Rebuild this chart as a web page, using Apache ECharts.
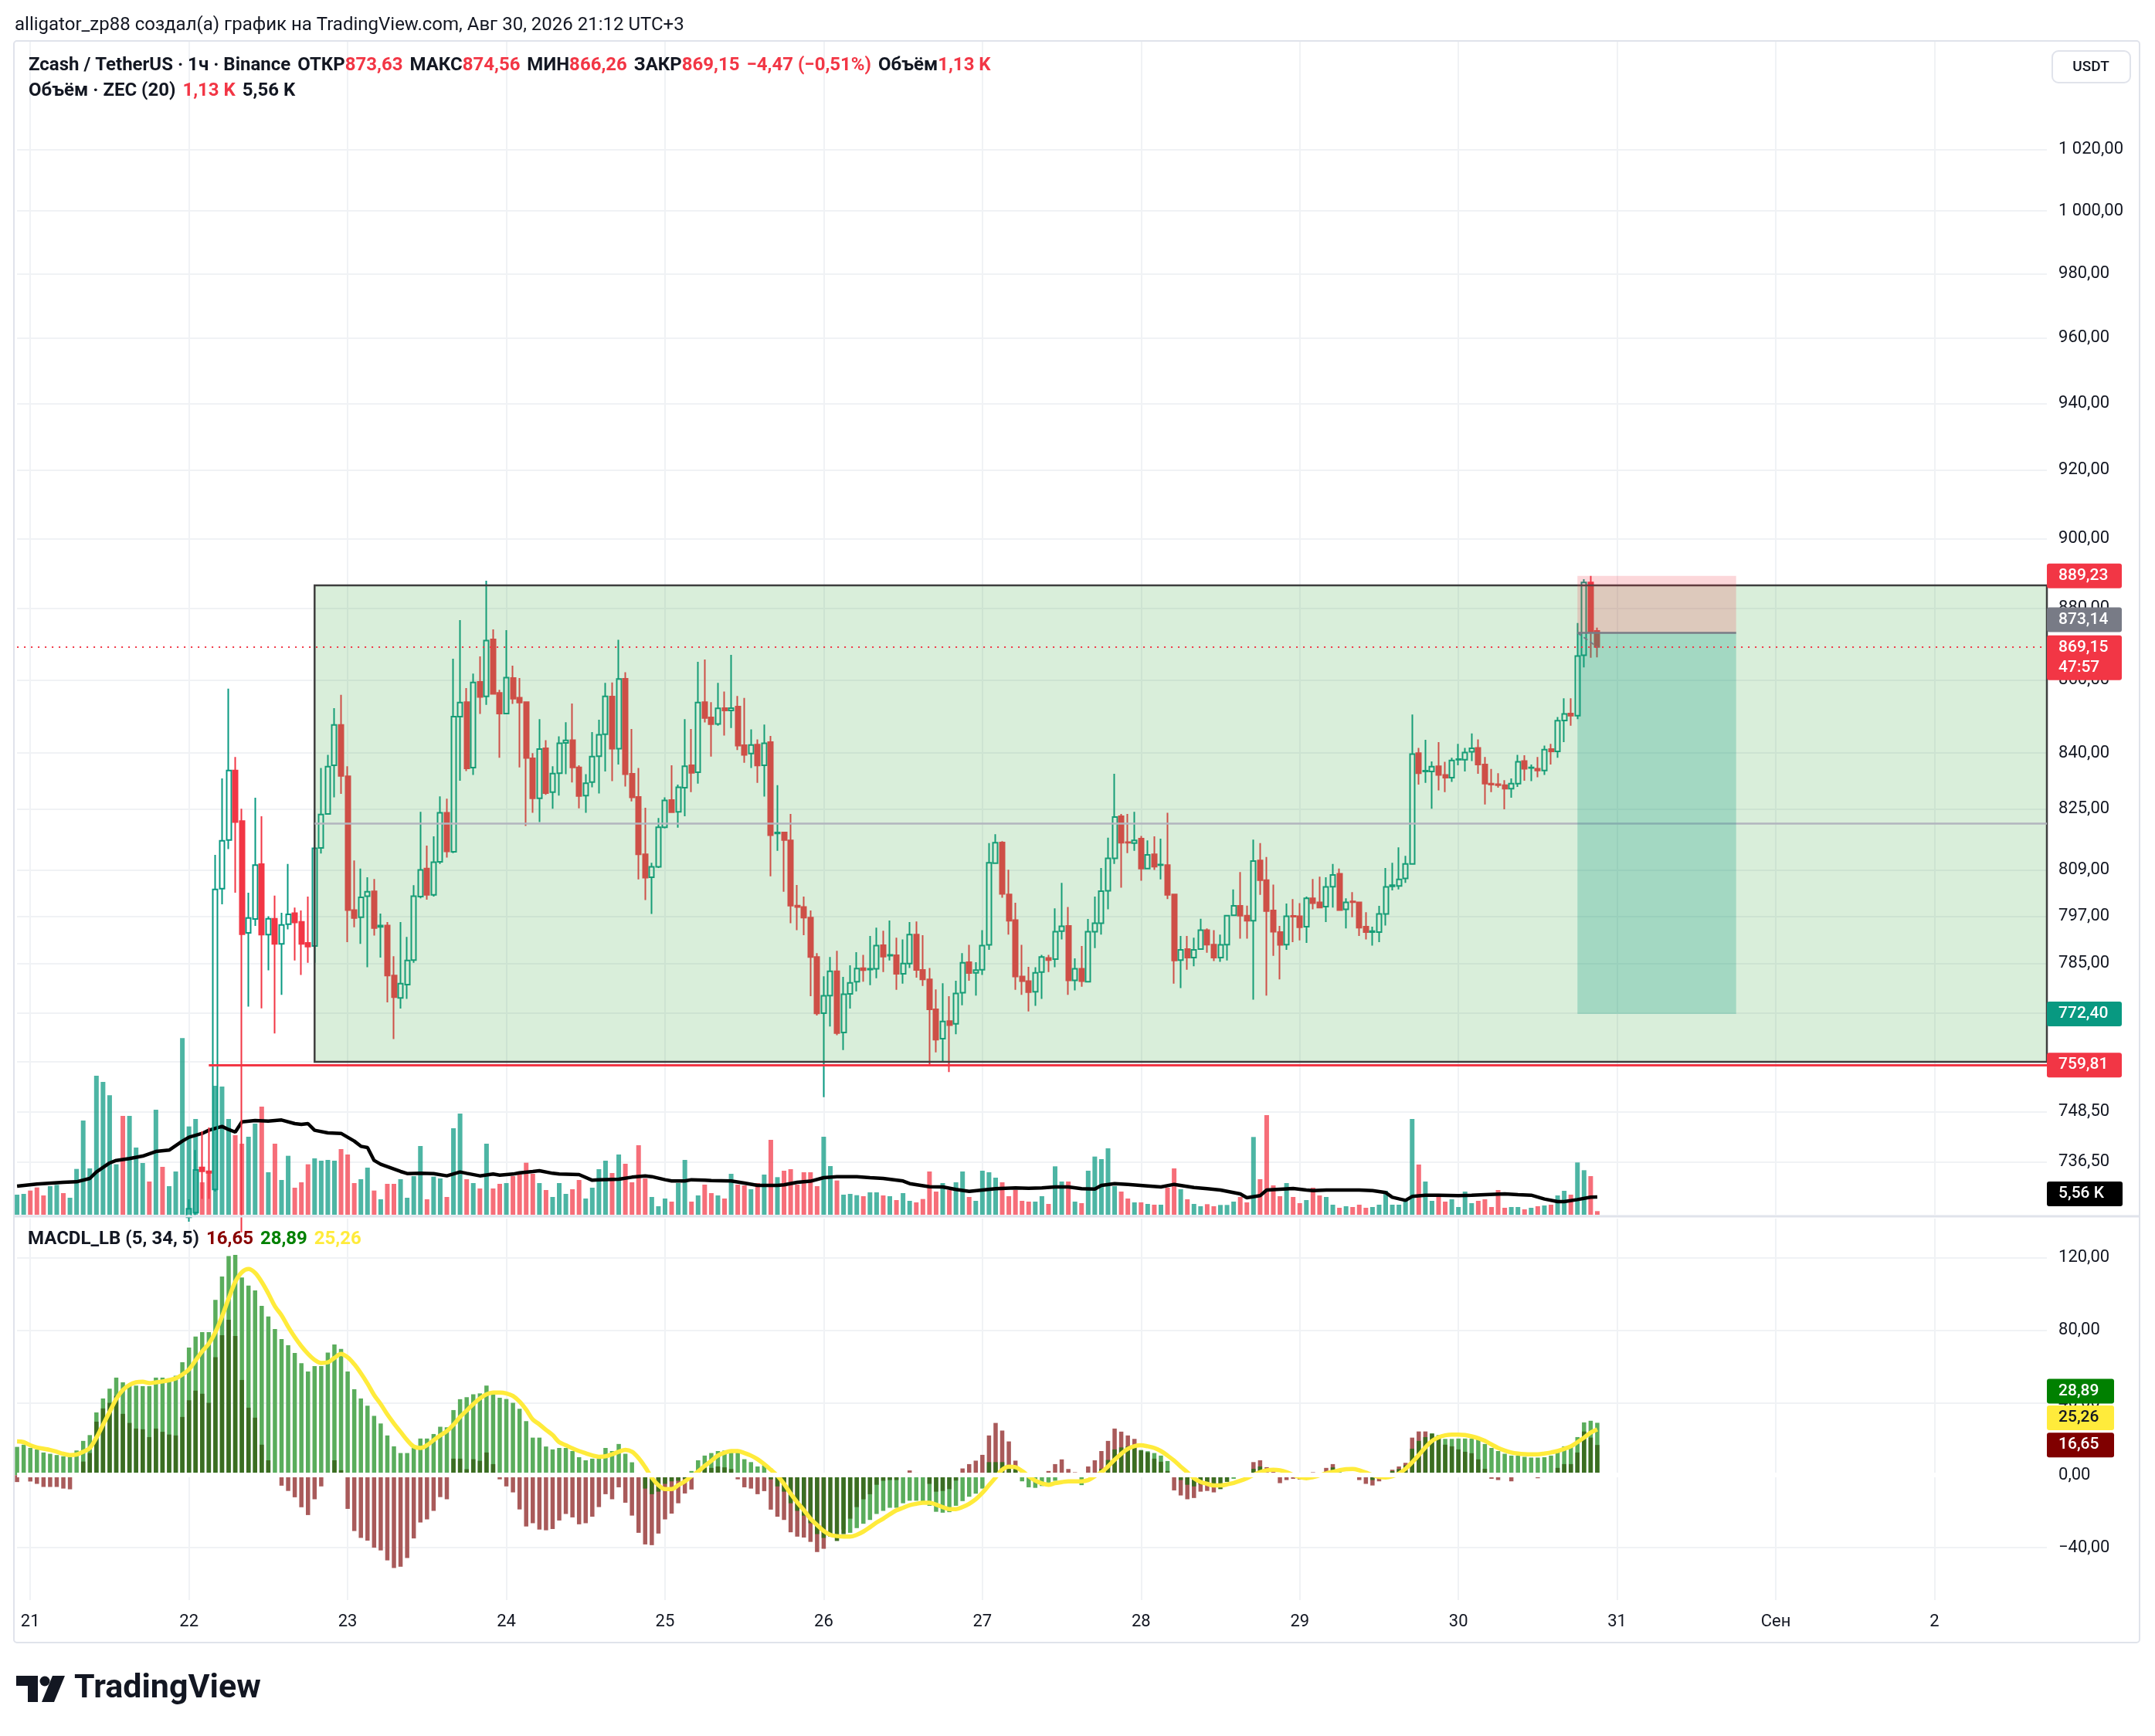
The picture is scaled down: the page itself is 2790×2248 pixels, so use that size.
<!DOCTYPE html>
<html><head><meta charset="utf-8">
<script src="https://cdn.jsdelivr.net/npm/echarts@6/dist/echarts.min.js"></script>
<style>html,body{margin:0;padding:0;background:#fff}#c{width:2790px;height:2248px}</style>
</head><body><div id="c"></div><script>
// ---------------- DATA ----------------
// hourly candles, index 0 = 20 Aug 22:00; candles 0..25 lie below the visible price range
const openP = [null,null,null,null,null,null,null,null,null,null,null,null,null,null,null,null,null,null,null,null,null,null,null,null,null,null,
723.5,724.6,735.2,734.3,
730.0,804.15,816.83,835.33,821.82,792.82,796.34,810.51,792.38,796.42,
790.01,795.02,797.84,795.63,790.27,789.48,814.74,823.73,836.72,847.64,
833.75,798.64,796.78,802.20,803.44,794.31,794.67,782.00,776.38,779.73,
785.90,802.11,809.35,802.55,811.14,824.00,813.75,849.90,853.87,836.07,
859.47,855.48,871.26,856.43,850.74,860.52,855.10,853.87,838.58,827.86,
841.27,829.51,834.58,842.76,843.51,836.16,828.60,832.18,839.14,845.11,
855.39,841.18,860.33,834.40,828.23,813.12,807.10,809.80,820.19,827.40,
824.28,830.71,836.72,834.86,853.87,849.71,847.92,852.25,851.59,852.63,
842.11,839.88,842.30,836.72,842.95,818.55,818.83,816.74,799.80,799.45,
796.69,786.69,772.60,776.98,783.08,767.83,777.41,780.43,783.86,783.51,
783.69,789.66,787.03,787.12,782.43,785.03,792.38,783.42,781.04,773.55,
766.30,770.63,769.95,777.67,785.38,782.69,783.47,789.74,810.78,816.20,
802.64,796.07,781.74,780.60,777.93,782.86,786.42,786.16,793.26,794.58,
780.78,783.69,780.43,793.08,795.28,803.62,812.04,823.09,816.29,816.01,
817.19,809.35,813.12,810.25,810.25,802.64,785.90,788.69,786.51,788.69,
793.52,789.83,786.51,789.83,797.31,799.71,797.22,795.90,811.50,806.38,
798.55,793.00,789.83,797.13,797.04,794.40,801.66,800.60,799.53,804.68,
808.00,798.82,800.86,800.60,794.40,793.00,793.00,797.66,804.77,804.86,
806.83,810.60,839.97,835.05,835.05,836.44,834.12,833.38,838.21,838.21,
840.34,841.37,836.91,831.81,831.62,831.35,830.43,831.81,837.83,835.98,
835.79,835.33,841.09,840.44,848.86,850.74,850.18,866.84,887.36,873.63];
const closeP = [null,null,null,null,null,null,null,null,null,null,null,null,null,null,null,null,null,null,null,null,null,null,null,null,null,null,
725.5,734.6,734.3,733.9,
803.97,816.65,835.33,821.55,792.47,796.60,810.25,792.38,796.42,790.01,
794.84,797.57,795.46,790.01,789.30,814.65,823.55,836.35,847.64,833.84,
798.64,796.60,801.93,803.35,794.05,794.67,782.00,776.56,779.99,785.82,
802.20,809.00,802.55,811.05,824.00,813.84,849.90,853.77,835.88,859.28,
855.29,870.97,856.15,850.74,860.61,854.82,853.77,838.67,827.86,841.09,
829.24,834.49,842.67,843.42,836.16,828.50,831.90,839.04,844.93,855.48,
841.18,860.23,834.30,828.13,813.12,807.01,809.80,820.19,827.31,824.18,
830.80,836.44,834.67,853.77,849.52,847.83,852.16,851.59,852.25,842.02,
839.51,842.20,836.63,842.67,818.10,818.83,816.83,799.80,799.45,796.69,
786.69,772.52,776.90,783.08,767.66,777.33,780.17,783.77,783.38,783.69,
789.57,786.77,787.20,782.43,785.03,792.38,783.42,781.04,773.55,766.04,
770.55,769.61,777.50,785.21,782.61,783.38,789.57,810.87,816.11,802.82,
795.90,781.74,780.60,777.84,782.69,786.69,785.90,793.08,794.49,780.78,
783.69,780.60,793.08,795.28,803.53,812.04,822.91,816.11,816.11,816.74,
809.35,812.94,809.89,810.42,802.55,785.82,788.51,786.51,788.51,793.52,
789.83,786.51,789.74,797.22,799.71,797.22,795.90,811.32,806.38,798.37,
793.08,789.74,797.04,796.95,794.23,801.66,800.42,799.26,804.60,807.73,
798.64,800.60,800.69,794.14,793.00,793.26,797.66,804.60,805.04,806.56,
810.60,839.70,834.58,835.23,836.35,834.12,833.38,838.02,838.39,840.16,
841.27,836.91,831.81,831.53,831.35,830.43,831.81,837.65,835.79,836.16,
835.33,840.90,840.44,848.77,850.65,850.18,866.65,887.36,873.40,869.15];
const lowP = [null,null,null,null,null,null,null,null,null,null,null,null,null,null,null,null,null,null,null,null,null,null,null,null,null,null,
722.5,724.0,727.8,727.8,
729.5,800.15,814.47,803.09,720.0,774.23,794.58,773.80,783.30,767.57,
777.15,793.70,785.82,782.17,785.21,785.21,813.30,823.73,828.13,829.05,
790.45,794.23,790.01,784.08,792.12,786.51,775.27,766.21,773.72,776.13,
785.21,801.66,801.31,802.11,810.60,812.22,813.39,832.55,835.14,834.12,
850.65,853.11,856.05,838.76,850.65,853.39,836.16,820.55,824.00,821.55,
828.78,825.10,828.60,834.30,832.09,825.19,824.00,830.80,829.15,835.05,
832.46,836.91,830.99,827.03,806.56,801.22,797.66,809.53,819.91,824.18,
820.10,823.09,829.51,831.81,848.30,839.04,847.45,844.74,846.80,840.81,
837.37,835.98,831.99,828.32,807.37,814.02,803.35,795.28,793.52,792.21,
776.81,772.00,752.00,769.27,767.15,763.49,773.72,778.01,780.43,779.56,
781.30,782.86,785.82,778.44,779.99,783.90,781.48,779.39,759.95,762.90,
760.62,758.10,767.40,774.58,780.69,776.98,782.17,788.51,810.60,801.84,
792.38,778.44,777.15,773.03,774.41,776.13,782.86,784.08,791.15,777.15,
778.27,779.21,780.43,788.95,792.38,798.82,810.60,804.42,813.39,814.02,
806.20,809.35,809.00,806.56,801.48,779.99,778.87,783.47,784.34,788.69,
787.73,785.64,785.47,785.82,797.31,791.32,791.32,775.95,802.55,776.98,
786.95,781.04,788.51,790.45,790.89,790.27,798.82,799.26,795.55,799.26,
798.64,793.96,796.78,792.03,791.15,789.57,790.45,794.67,803.71,803.97,
805.66,810.42,831.53,831.99,825.10,829.97,829.51,832.27,836.72,835.05,
837.83,834.40,826.21,829.51,830.71,824.92,828.04,830.89,832.55,832.46,
833.47,834.12,836.91,838.76,842.95,847.45,849.24,863.46,866.17,866.26];
const highP = [null,null,null,null,null,null,null,null,null,null,null,null,null,null,null,null,null,null,null,null,null,null,null,null,null,null,
727.7,739.3,743.8,744.7,
812.94,833.19,857.57,838.95,825.10,803.09,828.04,823.09,797.04,802.37,
797.93,810.60,799.26,798.55,802.11,814.92,835.98,839.51,852.25,855.86,
836.44,811.50,809.35,807.10,806.65,797.75,795.55,786.86,795.55,791.76,
805.04,824.28,815.37,817.83,828.41,827.77,865.88,876.70,857.76,861.75,
866.55,887.85,874.08,857.28,873.89,863.96,860.52,853.96,839.97,849.24,
843.51,836.44,844.55,848.39,853.49,836.72,834.30,845.67,849.05,859.18,
859.28,871.16,862.13,846.52,835.98,825.38,810.87,822.64,828.13,836.72,
831.53,849.24,846.52,865.02,865.69,853.87,859.18,856.81,866.93,855.58,
855.01,846.42,843.70,847.73,844.65,831.35,818.83,823.73,805.13,802.11,
798.55,787.64,781.83,786.69,788.25,781.65,784.60,787.90,787.20,792.03,
794.14,793.35,795.98,791.58,791.15,795.55,795.72,792.21,783.90,778.53,
780.08,776.81,780.69,787.64,789.74,785.38,793.52,816.01,818.37,816.56,
809.08,800.51,789.74,784.17,784.08,787.20,787.20,799.08,805.66,799.44,
786.34,789.48,796.34,802.11,809.53,817.46,834.40,823.73,823.73,824.28,
817.92,816.74,817.83,817.19,824.00,802.64,792.03,792.03,791.58,796.42,
793.96,793.52,792.38,797.31,803.97,808.45,799.80,816.92,816.01,812.40,
805.22,794.58,800.33,801.48,800.42,802.11,806.65,807.28,807.10,810.60,
809.35,801.66,803.26,800.60,798.11,794.40,799.71,809.53,810.87,814.92,
812.67,850.46,841.37,843.61,837.74,842.95,837.65,838.76,842.48,841.37,
845.30,843.70,838.95,835.70,834.58,832.73,833.19,839.51,839.42,836.91,
838.95,842.02,842.48,849.81,854.92,854.92,875.86,888.34,889.23,874.56];

// volume (thousands of ZEC)
const volumeK = [
6.29,6.53,7.57,8.54,6.04,8.94,9.35,6.77,5.32,14.34,
29.49,14.50,43.51,41.58,37.39,15.79,30.94,30.94,21.03,16.20,
10.39,32.88,14.99,8.94,13.54,55.28,27.64,29.98,10.15,13.38,
40.37,40.13,29.98,24.90,22.24,24.42,28.53,33.84,13.30,22.24,
10.88,18.45,8.46,10.15,15.79,17.65,16.92,17.16,16.92,20.55,
18.86,9.91,11.12,14.75,7.57,4.83,9.67,9.67,11.12,5.32,
12.09,21.51,4.83,11.93,11.36,5.56,27.07,31.67,11.12,9.91,
8.22,22.24,8.22,9.67,9.91,12.09,12.81,16.28,12.81,9.91,
7.74,5.56,9.91,6.53,7.98,10.88,5.08,8.46,14.26,16.92,
13.05,18.86,15.95,10.15,21.76,11.36,5.56,2.66,5.08,4.11,
9.91,17.16,4.11,6.04,9.43,6.77,6.04,5.08,12.81,9.43,
9.19,7.98,9.91,12.57,23.45,11.76,13.78,14.26,9.43,13.30,
13.30,8.94,24.42,15.23,10.72,6.29,6.53,6.12,5.80,7.01,
7.01,6.04,5.80,4.59,6.77,4.35,3.87,4.92,13.54,7.25,
9.91,7.74,10.15,13.54,5.56,4.35,13.78,13.30,11.60,10.15,
5.80,7.74,4.35,4.11,4.11,5.80,3.38,15.15,10.39,10.39,
4.11,3.63,13.78,18.21,17.41,20.79,8.94,7.25,5.08,3.87,
3.87,3.38,3.14,3.14,8.46,14.50,7.98,4.83,3.38,2.66,
3.30,2.66,3.06,3.06,4.11,5.56,3.87,24.34,11.12,31.18,
9.19,5.80,9.91,5.56,3.63,4.59,8.46,6.04,5.56,3.14,
2.18,2.66,2.42,3.14,2.18,2.42,3.14,7.49,3.14,3.14,
4.35,29.98,15.71,10.39,4.35,5.56,4.11,4.83,2.42,7.25,
3.63,4.35,4.83,2.42,7.74,2.18,2.42,2.42,1.69,2.18,
2.66,2.90,3.14,6.04,7.49,6.29,16.36,13.94,12.09,1.13];
// direction of the volume bars whose candles are off-range (index 0..25): 1 = up
const earlyVolUp = [1,1,0,0,0,1,1,0,1,1,1,1,1,1,1,1,0,1,1,1,0,1,0,1,1,1];
// volume MA(20), read at these bar indices
const volMaIdx = [0,3,7,9,11,12,14,15,17,19,21,23,25,26,28,29,31,32,33,34,36,38,40,42,43,44,45,47,49,51,52,53,54,55,58,59,61,63,65,67,68,70,72,73,75,76,78,79,81,82,85,87,88,91,93,95,96,98,99,101,102,104,105,108,110,112,115,116,118,120,122,124,127,129,131,134,135,138,140,142,144,146,148,151,153,155,157,159,161,163,164,166,168,171,173,175,178,180,182,185,186,188,189,191,193,195,196,198,201,203,205,207,208,210,211,213,215,218,220,222,225,227,229,231,233,234,236,238,239];
const volMaVal = [8.94,9.59,10.15,10.31,11.36,13.38,16.20,17.00,17.57,18.37,19.82,20.23,23.05,24.25,25.46,26.43,27.64,26.67,25.87,29.09,29.49,29.33,29.65,28.53,28.28,28.53,26.43,25.62,25.46,23.05,21.43,21.03,17.00,15.79,13.54,12.89,12.97,12.89,12.17,13.38,12.97,12.17,12.73,12.41,12.73,13.13,13.54,13.78,12.97,12.73,12.57,10.80,10.96,11.12,11.76,12.17,11.93,10.96,10.56,10.56,10.96,10.80,10.72,10.56,9.91,9.19,9.19,9.35,10.15,10.50,11.60,11.93,11.93,11.60,11.36,10.56,9.75,8.78,8.70,7.90,7.33,7.74,8.14,8.38,8.30,8.38,8.70,8.70,8.14,8.06,9.19,9.75,9.51,9.03,8.70,9.51,8.54,8.14,7.74,6.53,5.32,5.96,7.74,7.98,8.22,7.74,7.57,7.74,7.74,7.74,7.57,6.93,5.48,4.51,5.72,6.12,6.12,5.96,6.12,6.29,6.53,6.29,6.12,4.92,4.11,4.11,4.75,5.48,5.56];

// MACDL_LB (5, 34, 5): light-green columns, dark-green columns, red columns, yellow line
const macdGreen = [
15.6,16.8,15.0,14.2,12.5,11.8,11.1,10.4,10.1,13.6,
18.9,22.1,34.6,42.3,47.7,53.8,51.2,49.1,49.4,49.1,
49.1,53.8,53.8,53.4,54.8,62.3,70.4,76.4,78.9,78.9,
96.7,109.6,120.8,121.5,109.0,104.5,101.9,93.4,87.5,80.6,
75.1,71.7,67.4,61.8,57.2,60.2,60.2,67.6,72.1,69.6,
57.2,47.4,42.3,38.3,32.7,28.5,21.9,15.9,12.2,12.2,
15.3,20.2,20.2,22.7,26.7,26.4,35.9,41.9,43.0,44.6,
45.1,49.4,44.9,42.7,42.0,39.9,36.6,29.8,20.7,20.7,
15.8,14.2,15.0,15.0,13.3,9.9,8.2,9.1,9.1,15.0,
13.3,17.2,11.8,7.1,0,0,0,0,0,0,
0,0,2.3,8.2,10.8,12.2,13.3,13.6,12.9,12.9,
8.8,7.2,4.8,5.4,0,0,0,0,0,0,
0,0,0,0,0,-30.0,-31.8,-29.2,-26.8,-24.7,
-21.4,-19.7,-18.0,-18.0,-15.5,-14.1,-14.1,-14.8,-16.9,-20.2,
-20.7,-20.4,-16.9,-14.3,-11.9,-10.2,-7.4,0,0,0,
0,0,-3.4,-6.7,-7.0,-6.0,-4.1,-3.1,0,0,
0,-5.5,0,0,0,0,0,0,0,0,
13.9,13.2,12.2,10.8,7.8,0,0,0,0,0,
0,0,0,0,-2.0,0,0,0,0,0,
0,0,0,0,0,0,0,0,0,0,
3.0,1.4,0,0,0,0,0,0,0,0,
0,0,0,0,23.0,22.1,20.0,20.0,20.2,20.2,
20.2,19.7,17.2,15.0,13.3,11.8,10.8,10.8,10.1,9.7,
9.7,9.9,10.8,14.1,15.9,16.2,21.0,29.1,30.0,28.89];
const macdDark = [
0,0,0,0,0,0,0,0,0,0,
7.5,12.2,29.5,36.8,39.9,43.7,33.8,28.8,25.7,25.3,
21.0,25.7,23.9,22.4,21.9,32.1,41.3,46.6,44.9,39.9,
65.0,77.2,85.7,76.8,52.5,37.2,31.7,16.8,8.2,0,
0,0,0,0,0,0,0,1.4,8.2,2.7,
0,0,0,0,0,0,0,0,0,0,
0,0,0,0,0,0,9.1,9.1,3.3,8.8,
7.9,12.5,6.1,0,0,0,0,0,0,0,
0,0,0,0,0,0,0,0,0,0,
0,0,0,0,0,-7.4,-10.5,-9.1,-4.8,-3.4,
-3.1,-2.0,0,2.6,4.0,4.0,4.8,4.3,3.4,0,
0,0,0,0,-2.3,-6.2,-9.1,-15.5,-19.7,-22.3,
-26.5,-32.5,-34.6,-33.9,-36.3,-32.5,-24.0,-17.6,-13.3,-10.5,
-5.3,-3.1,-2.7,-2.7,0,0,0,0,-4.8,-9.1,
-8.7,-7.7,-3.0,0,0,0,0,7.2,7.2,7.2,
5.7,5.1,0,0,0,0,0,0,0,0,
0,0,0,0,3.5,8.4,14.2,15.3,15.9,16.2,
13.6,12.6,9.1,7.4,2.3,0,-2.7,-5.3,-6.2,-5.1,
-4.1,-4.8,-7.7,-3.7,0,0,0,3.5,4.8,0,
0,0,0,0,0,0,0,0,0,4.3,
0,0,0,0,0,-2.7,0,0,2.3,3.4,
5.4,14.6,18.9,21.0,22.9,21.4,16.8,15.9,14.2,12.9,
12.1,8.7,3.5,0,0,0,0,0,0,0,
0,0,0,4.0,6.1,6.1,12.5,24.1,20.7,16.65];
const macdRed = [
-3.8,0,-3.5,-4.8,-6.5,-6.5,-6.5,-7.4,-7.8,0,
0,0,0,0,0,0,0,0,0,0,
0,0,0,0,0,0,0,0,0,0,
0,0,0,0,0,0,0,0,0,0,
-5.8,-8.7,-12.2,-17.7,-22.0,-13.3,-6.2,0,0,0,
-18.6,-30.8,-34.6,-36.1,-40.0,-41.5,-47.0,-51.2,-50.5,-45.7,
-34.9,-26.1,-24.4,-19.7,-12.1,-13.3,0,0,0,0,
0,0,0,-2.3,-6.2,-9.5,-18.9,-28.3,-26.5,-30.0,
-30.4,-29.7,-25.0,-21.4,-23.3,-27.1,-26.5,-22.9,-17.6,-10.5,
-13.3,-6.7,-15.2,-22.3,-31.8,-38.2,-38.6,-32.2,-24.4,-21.2,
-15.5,-10.1,-7.9,0,0,0,0,0,0,-2.3,
-6.7,-7.4,-10.5,-8.8,-19.0,-22.9,-24.7,-31.5,-33.9,-34.4,
-36.8,-42.4,-40.6,0,0,0,0,0,0,0,
0,0,0,0,0,2.6,1.4,0,0,0,
0,0,0,3.7,6.1,8.0,11.2,21.9,28.8,24.6,
18.6,8.0,1.6,0,0,0,2.3,6.1,8.7,3.4,
1.6,0,4.8,8.2,13.3,18.9,25.7,24.0,21.9,20.0,
0,0,0,0,0,-8.4,-11.2,-13.3,-12.6,-9.1,
-8.7,-9.5,0,0,0,1.3,0,7.2,8.2,4.4,
3.0,-4.4,-2.7,-2.0,-2.4,0,1.6,0,4.0,6.1,
0,0,0,-2.7,-4.8,-5.7,-3.4,0,3.0,4.8,
6.8,20.7,24.1,24.1,0,0,0,0,0,0,
0,0,0,-2.0,-2.7,0,-3.4,0,0,0,
-1.7,0,0,0,0,0,0,0,0,0];
const macdSignal = [
18.6,18.2,16.5,15.3,14.6,13.9,12.9,11.8,11.1,11.4,
12.9,15.0,20.7,27.8,34.9,42.0,47.0,49.8,51.2,51.5,
50.8,51.2,51.7,52.4,53.4,55.5,58.3,63.3,68.3,72.5,
78.9,87.5,97.4,106.6,111.9,113.7,111.6,106.6,100.2,93.1,
88.2,81.8,76.1,71.1,66.9,63.6,61.9,62.2,64.7,66.9,
65.0,61.2,56.2,50.5,44.2,39.2,33.5,28.5,23.9,19.3,
15.8,15.0,16.5,19.3,21.9,24.3,27.8,32.1,35.6,39.2,
42.3,44.6,45.6,45.6,45.1,43.7,40.6,36.1,30.7,28.0,
25.0,22.1,18.2,16.5,14.8,13.3,12.1,10.9,10.1,10.4,
11.5,12.9,13.9,12.9,9.4,4.4,-1.3,-5.5,-7.7,-7.7,
-5.5,-3.4,-0.6,2.0,5.1,7.9,10.8,12.4,13.3,13.3,
12.2,10.8,8.8,6.1,3.0,-0.3,-4.8,-10.2,-15.0,-19.3,
-24.0,-27.5,-30.8,-32.9,-33.6,-33.9,-33.9,-32.9,-31.1,-28.7,
-26.1,-24.0,-21.6,-19.4,-18.0,-16.6,-15.8,-15.2,-15.2,-16.2,
-17.6,-18.7,-18.7,-17.6,-15.8,-13.3,-9.8,-5.5,-1.3,3.0,
4.7,4.4,2.3,-0.6,-3.0,-4.5,-5.3,-4.4,-3.8,-3.4,
-3.4,-3.4,-2.7,-0.6,1.6,4.8,8.5,11.8,14.5,16.0,
16.5,15.9,15.0,13.3,10.8,8.0,4.7,1.6,-1.7,-3.7,
-4.8,-5.7,-5.7,-5.1,-4.3,-3.1,-1.7,0.1,1.7,2.7,
3.0,2.7,1.7,0.1,-1.1,-1.7,-1.1,-0.1,1.0,1.8,
2.7,3.3,3.4,2.7,1.4,0,-1.0,-1.3,-0.6,0.9,
3.5,7.1,11.1,15.3,18.9,20.9,22.0,22.4,22.4,22.1,
21.4,20.4,18.9,16.9,15.0,13.6,12.5,11.9,11.6,11.5,
11.5,11.9,12.5,13.3,14.5,15.9,18.2,20.7,23.5,25.26];

// tick labels
const priceTicks = [1020,1000,980,960,940,920,900,880,860,840,825,809,797,785,772.7,760.6,748.5,736.5];
const macdTicks = [120,80,40,0,-40];
const monthLabels = {'09':'Сен'};
// drawings / price levels
const level = {stop:889.23, entry:873.14, last:869.15, target:772.40, support:759.81};
const rectDraw = {from:45, top:886.56, bottom:760.6, mid:821.2};
const posDraw = {from:236, to:260};
const supportFrom = 29;
const countdown = '47:57';
const volMaLast = 5.56;
// header texts
const creditText = 'alligator_zp88 создал(а) график на TradingView.com, Авг 30, 2026 21:12 UTC+3';

// ---------------- LAYOUT ----------------
const FONT = 'Roboto, "Noto Sans", "DejaVu Sans", sans-serif';
const NSLOT = 308;
const T0 = Date.UTC(2026, 7, 20, 22);
const cats = [];
for (let k = 0; k < NSLOT; k++) cats.push(new Date(T0 + k * 3600e3).toISOString().slice(0, 13));
const isMidnight = (v) => v.slice(11, 13) === '00';
const dayLabel = (v) => { const m = v.slice(5, 7), d = +v.slice(8, 10); return (d === 1 && monthLabels[m]) ? monthLabels[m] : String(d); };

const GL = 22.1, GW = 8.56 * (NSLOT - 1);
const P_MIN = 724.1, P_MAX = 1056.2;
const M_MIN = -68.9, M_MAX = 141.5;

function fmtNum(v, dec) {
  const neg = v < 0; let s = Math.abs(v).toFixed(dec == null ? 2 : dec);
  let [a, b] = s.split('.'); a = a.replace(/\B(?=(\d{3})+(?!\d))/g, ' ');
  return (neg ? '−' : '') + a + (b ? ',' + b : '');
}
function boxLabel(text, bg, fg, dy, w) {
  return { show: true, position: 'end', distance: 0, formatter: text, color: fg || '#fff',
    backgroundColor: bg, padding: [3, 6, 3, 15], width: w || 76, fontSize: 21, lineHeight: 26,
    fontFamily: FONT, fontWeight: 500, borderRadius: 3, align: 'left', offset: [0, dy || 0] };
}
const hidden = { color: 'rgba(0,0,0,0)', width: 1, type: 'solid' };

const candleData = openP.map((o, i) => o == null ? ['-', '-', '-', '-'] : [o, closeP[i], lowP[i], highP[i]]);
const volData = volumeK.map((v, i) => {
  const up = openP[i] == null ? earlyVolUp[i] === 1 : closeP[i] >= openP[i];
  return { value: v, itemStyle: { color: up ? 'rgba(8,153,129,0.72)' : 'rgba(242,54,69,0.72)' } };
});
const volMaData = volMaIdx.map((ix, k) => [ix, volMaVal[k]]);
const last = closeP.length - 1;

const splitX = { show: true, interval: (i, v) => isMidnight(v), lineStyle: { color: '#f0f2f5', width: 2 } };
const rich23 = (c) => ({ color: c, fontSize: 24, fontFamily: FONT, lineHeight: 28 });

const option = {
  animation: false,
  backgroundColor: '#ffffff',
  textStyle: { fontFamily: FONT },
  title: [
    { text: creditText, left: 19, top: 19, padding: 0, textStyle: { fontSize: 24, fontWeight: 'normal', color: '#131722', fontFamily: FONT, lineHeight: 28 } },
    { text: '{k|Zcash / TetherUS · 1ч · Binance}  {k|ОТКР}{r|' + fmtNum(openP[last]) + '}  {k|МАКС}{r|' + fmtNum(highP[last]) + '}  {k|МИН}{r|' + fmtNum(lowP[last]) + '}  {k|ЗАКР}{r|' + fmtNum(closeP[last]) + '}  {r|−4,47 (−0,51%)}  {k|Объём}{r|' + fmtNum(volumeK[last]) + ' K}',
      left: 37, top: 71, padding: 0, textStyle: { rich: { k: rich23('#131722'), r: rich23('#f23645') } } },
    { text: '{k|Объём · ZEC (20)}  {r|' + fmtNum(volumeK[last]) + ' K}  {k|' + fmtNum(volMaLast) + ' K}',
      left: 37, top: 104, padding: 0, textStyle: { rich: { k: rich23('#131722'), r: rich23('#f23645') } } },
    { text: '{k|MACDL_LB (5, 34, 5)}  {m|' + fmtNum(macdDark[last]) + '}  {g|' + fmtNum(macdGreen[last]) + '}  {y|' + fmtNum(macdSignal[last]) + '}',
      left: 36, top: 1591, padding: 0,
      textStyle: { rich: { k: rich23('#131722'), m: rich23('#880000'), g: rich23('#008000'), y: rich23('#ffeb3b') } } },
    { text: 'TradingView', left: 96, top: 2163, padding: 0, textStyle: { fontSize: 43, fontWeight: 'bold', color: '#131722', fontFamily: FONT, lineHeight: 48 } }
  ],
  graphic: { elements: [
    { type: 'rect', shape: { x: 18, y: 53, width: 2752, height: 2074, r: 4 }, style: { fill: 'none', stroke: '#e0e3eb', lineWidth: 2 }, silent: true, z: 50 },
    { type: 'line', shape: { x1: 18, y1: 1575, x2: 2770, y2: 1575 }, style: { stroke: '#e0e3eb', lineWidth: 3 }, silent: true, z: 50 },
    { type: 'rect', shape: { x: 2657, y: 66, width: 101, height: 41, r: 8 }, style: { fill: '#fff', stroke: '#e0e3eb', lineWidth: 2 }, silent: true, z: 50 },
    { type: 'text', x: 2707, y: 87, style: { text: 'USDT', fill: '#131722', font: '500 19px ' + FONT, align: 'center', verticalAlign: 'middle' }, silent: true, z: 51 },
    { type: 'polygon', shape: { points: [[21, 2170], [49, 2170], [49, 2204], [36, 2204], [36, 2183], [21, 2183]] }, style: { fill: '#131722' }, silent: true },
    { type: 'circle', shape: { cx: 58, cy: 2177, r: 6.5 }, style: { fill: '#131722' }, silent: true },
    { type: 'polygon', shape: { points: [[68, 2170], [84, 2170], [70, 2204], [54, 2204]] }, style: { fill: '#131722' }, silent: true }
  ] },
  grid: [
    { left: GL, width: GW, top: 53, height: 1520, containLabel: false, outerBoundsMode: 'none' },
    { left: GL, width: GW, top: 1573 - 413.7, height: 413.7, containLabel: false, outerBoundsMode: 'none' },
    { left: GL, width: GW, top: 1578, height: 494, containLabel: false, outerBoundsMode: 'none' }
  ],
  xAxis: [
    { type: 'category', gridIndex: 0, data: cats, boundaryGap: false, axisLine: { show: false }, axisTick: { show: false }, axisLabel: { show: false }, splitLine: splitX },
    { type: 'category', gridIndex: 1, data: cats, boundaryGap: false, show: false },
    { type: 'category', gridIndex: 2, data: cats, boundaryGap: false, axisLine: { show: false }, axisTick: { show: false },
      axisLabel: { show: true, interval: (i, v) => isMidnight(v), formatter: (v) => dayLabel(v), color: '#131722', fontSize: 22, margin: 17, fontFamily: FONT, hideOverlap: false },
      splitLine: splitX }
  ],
  yAxis: [
    { type: 'log', logBase: 10, gridIndex: 0, min: P_MIN, max: P_MAX, show: false, splitLine: { show: false } },
    { type: 'value', gridIndex: 0, position: 'right', min: Math.log(P_MIN), max: Math.log(P_MAX),
      axisLine: { show: false }, axisTick: { show: false, customValues: priceTicks.map(Math.log) },
      axisLabel: { customValues: priceTicks.map(Math.log), formatter: (v) => fmtNum(Math.exp(v)), color: '#131722', fontSize: 22, margin: 15, fontFamily: FONT, align: 'left' },
      splitLine: { show: true, lineStyle: { color: '#f0f2f5', width: 2 } } },
    { type: 'value', gridIndex: 1, min: 0, max: 100, show: false, splitLine: { show: false } },
    { type: 'value', gridIndex: 2, position: 'right', min: M_MIN, max: M_MAX,
      axisLine: { show: false }, axisTick: { show: false, customValues: macdTicks },
      axisLabel: { customValues: macdTicks, formatter: (v) => fmtNum(v), color: '#131722', fontSize: 22, margin: 15, fontFamily: FONT, align: 'left' },
      splitLine: { show: true, lineStyle: { color: '#f0f2f5', width: 2 } } }
  ],
  series: [
    { name: 'Объём', type: 'bar', xAxisIndex: 1, yAxisIndex: 2, data: volData, barWidth: 6, z: 1, silent: true },
    { name: 'Объём MA', type: 'line', xAxisIndex: 1, yAxisIndex: 2, data: volMaData, showSymbol: false, symbol: 'none', connectNulls: true,
      lineStyle: { color: '#000', width: 4.5 }, z: 2, silent: true,
      markLine: { silent: true, symbol: ['none', 'none'], z: 8,
        data: [{ yAxis: volMaLast, lineStyle: hidden, label: boxLabel(fmtNum(volMaLast) + ' K', '#000', '#fff', -4, 77) }] } },
    { name: 'ZECUSDT', type: 'candlestick', xAxisIndex: 0, yAxisIndex: 0, data: candleData, barWidth: 6.5, z: 2, clip: true, silent: true,
      itemStyle: { color: 'rgba(0,0,0,0)', color0: '#f23645', borderColor: '#089981', borderColor0: '#f23645', borderWidth: 2 } },
    // rectangle drawing (drawn over the candles)
    { name: 'rect', type: 'line', xAxisIndex: 0, yAxisIndex: 0, data: [], z: 3, silent: true,
      markArea: { silent: true, z: 3, itemStyle: { color: 'rgba(76,175,80,0.21)', borderColor: '#3e3e3e', borderWidth: 2.5 }, label: { show: false },
        data: [[{ coord: [rectDraw.from, rectDraw.top] }, { coord: [NSLOT - 1, rectDraw.bottom] }]] },
      markLine: { silent: true, z: 3, symbol: ['none', 'none'], label: { show: false },
        data: [
          [{ coord: [rectDraw.from, rectDraw.mid], lineStyle: { color: '#b2b5be', width: 2.5, type: 'solid' } }, { coord: [NSLOT - 1, rectDraw.mid] }],
          [{ coord: [supportFrom, level.support], lineStyle: { color: '#f23645', width: 3, type: 'solid' } }, { coord: [NSLOT - 1, level.support] }]
        ] } },
    // short position tool
    { name: 'position', type: 'line', xAxisIndex: 0, yAxisIndex: 0, data: [], z: 4, silent: true,
      markArea: { silent: true, z: 4, label: { show: false },
        data: [
          [{ coord: [posDraw.from, level.stop], itemStyle: { color: 'rgba(242,54,69,0.2)' } }, { coord: [posDraw.to, level.entry] }],
          [{ coord: [posDraw.from, level.entry], itemStyle: { color: 'rgba(8,153,129,0.26)' } }, { coord: [posDraw.to, level.target] }]
        ] },
      markLine: { silent: true, z: 4, symbol: ['none', 'none'], label: { show: false },
        data: [
          [{ coord: [posDraw.from, level.entry], lineStyle: { color: '#787b86', width: 2.5, type: 'solid' } }, { coord: [posDraw.to, level.entry] }],
          [{ coord: [posDraw.from, level.entry], lineStyle: { color: '#787b86', width: 2, type: [6, 4] } }, { coord: [last, level.last] }]
        ] } },
    // price-scale labels & current price line
    { name: 'levels', type: 'line', xAxisIndex: 0, yAxisIndex: 0, data: [], z: 6, silent: true,
      markLine: { silent: true, z: 8, symbol: ['none', 'none'],
        data: [
          { yAxis: level.last, lineStyle: { color: '#f23645', width: 2, type: [2, 7] }, label: boxLabel(fmtNum(level.last) + '\n' + countdown, '#f23645', '#fff', 14, 76) },
          { yAxis: level.stop, lineStyle: hidden, label: boxLabel(fmtNum(level.stop), '#f23645', '#fff', 0, 76) },
          { yAxis: level.entry, lineStyle: hidden, label: boxLabel(fmtNum(level.entry), '#787b86', '#fff', -17, 76) },
          { yAxis: level.target, lineStyle: hidden, label: boxLabel(fmtNum(level.target), '#089981', '#fff', 0, 76) },
          { yAxis: level.support, lineStyle: hidden, label: boxLabel(fmtNum(level.support), '#f23645', '#fff', 0, 76) }
        ] } },
    // MACD pane
    { name: 'MACD green', type: 'bar', xAxisIndex: 2, yAxisIndex: 3, data: macdGreen, barWidth: 5.5, barGap: '-100%', itemStyle: { color: '#5aad5c' }, z: 2, silent: true },
    { name: 'MACD red', type: 'bar', xAxisIndex: 2, yAxisIndex: 3, data: macdRed, barWidth: 5.5, barGap: '-100%', itemStyle: { color: '#a95a5a' }, z: 2, silent: true },
    { name: 'MACD dark', type: 'bar', xAxisIndex: 2, yAxisIndex: 3, data: macdDark, barWidth: 5.5, barGap: '-100%', itemStyle: { color: '#3b6d22' }, z: 2, silent: true },
    { name: 'Signal', type: 'line', xAxisIndex: 2, yAxisIndex: 3, data: macdSignal, smooth: 0.35, showSymbol: false, symbol: 'none',
      lineStyle: { color: '#ffeb3b', width: 5.5 }, z: 4, silent: true },
    { name: 'macd-levels', type: 'line', xAxisIndex: 2, yAxisIndex: 3, data: [], z: 6, silent: true,
      markLine: { silent: true, z: 8, symbol: ['none', 'none'],
        data: [
          { yAxis: 0, lineStyle: { color: '#ffffff', width: 6, type: 'solid' }, label: { show: false } },
          { yAxis: macdGreen[last], lineStyle: hidden, label: boxLabel(fmtNum(macdGreen[last]), '#008000', '#fff', -41, 66) },
          { yAxis: macdSignal[last], lineStyle: hidden, label: boxLabel(fmtNum(macdSignal[last]), '#ffeb3b', '#131722', -15, 66) },
          { yAxis: macdDark[last], lineStyle: hidden, label: boxLabel(fmtNum(macdDark[last]), '#800000', '#fff', 0, 66) }
        ] } }
  ]
};

const chart = echarts.init(document.getElementById('c'), null, { renderer: 'canvas', width: 2790, height: 2248 });
chart.setOption(option);
</script></body></html>
